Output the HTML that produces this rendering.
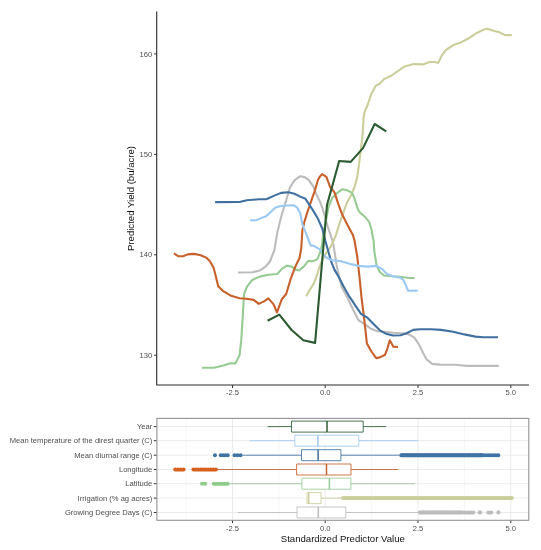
<!DOCTYPE html>
<html lang="en"><head><meta charset="utf-8"><title>Partial dependence plot</title>
<style>html,body{margin:0;padding:0;background:#fff}body{width:541px;height:550px;overflow:hidden}</style></head>
<body>
<svg width="541" height="550" viewBox="0 0 541 550" style="display:block">
<rect width="541" height="550" fill="#fff"/>
<g fill="none" stroke-width="2.1" stroke-linejoin="round" stroke-linecap="butt">
<polyline stroke="#bcbcbc" points="238,272.5 252.4,272.3 259.6,270.6 265.5,266.7 269.9,261.5 274.4,250 277.4,232.1 281.8,214.4 285.5,202.5 289.9,187.7 294.4,180.4 300.3,176.2 304.7,177.1 309.1,180.4 313.6,187.2 315.7,193 319.4,200.4 322.4,207.8 324.3,214.4 326.1,221.1 327.4,225.5 330.2,233.9 332.8,242 334.3,250.2 335.7,259 336.6,265 338.8,275.5 341.8,287.3 347.5,297.7 353,309.5 358.6,320.3 365.1,324.4 371.1,328.8 377,331.1 384.4,331.8 393.2,332.8 402.1,333.3 408.9,334.4 414.4,337.7 418.9,344.4 423.3,353.2 426.6,359.4 432.2,363.9 439.9,364.6 455.5,364.8 466.5,365.9 498.7,365.9"/>
<polyline stroke="#cbce9b" points="306.2,296.2 310,289.5 313.7,283.6 317.4,274 319.6,266.6 323.3,257.7 327,251.8 329.2,249 332.2,243.9 335.9,235.1 339.6,223.2 343.3,212.9 347,202.5 350.7,195.9 354.4,187.5 357.1,177.6 359,164.7 360.8,149.9 362.7,133.3 363.6,118 364.4,112.4 367.6,105 371.3,93.9 375.9,85.6 379.6,83.8 384.2,79.1 391.6,75.5 398.1,70.8 404.5,66.6 413.8,64 423,64.4 429.5,62 435,62 438.2,62.9 442.2,54.8 445.9,50 454,44.7 459.6,43.1 467.9,38.8 476.2,33.3 483.6,29.6 487.3,28.7 492.8,30.5 499.3,32.3 504.9,35.1 511.7,35.1"/>
<polyline stroke="#97cb94" points="202,367.8 214,367.8 223.3,365.6 229.7,363.4 235.3,363.4 239.5,355.5 241.3,339.8 242.6,319.1 244,294 247,286.6 252.2,280 259.6,276.6 268.4,274.8 277.3,274 281.8,268.9 286.9,265.6 292.1,266.7 295.1,269.6 298.9,270.4 303.5,266.8 308.5,260.7 312.2,261.4 317.4,259.2 320.3,251.8 322,245 323.3,233.6 326.3,218.8 328.5,207 332.2,198.1 337.4,192.8 342,189.3 347,190.2 352.1,192.9 354.4,198.1 358.1,209.9 360.3,212.9 365.5,217.3 369.1,221.8 371.4,229.2 373.6,241 374.4,251.8 376.6,265.1 379.6,271.8 384,275.5 391.4,276.2 400.3,276.7 409.1,278 414.6,278"/>
<polyline stroke="#c8602b" points="173.9,253.3 178.5,256.3 183.1,256.3 187.7,254.4 194.2,253.9 200.7,255.2 206.2,257.6 209.9,261.3 213.6,267.7 215.5,275.1 218.2,286.2 222.8,290.8 231.2,295.8 239.5,298.2 246.3,298.7 253.7,299.9 258.8,303.9 264,301.4 268.4,298.4 273.6,304.4 277,312.5 281.8,299.2 286.2,294 290.6,279.2 295,267.4 299.6,257.7 301.3,248 302.4,230 304.6,221.1 307.6,211.5 310.9,201.9 313.5,194.4 315,190.3 317.8,180.2 319.6,177 322.1,174.1 326.4,176.8 330.1,187 334.5,192.4 338.1,203.3 341.8,213.6 347,224 352.9,235.1 354.4,240 357.3,257 359.5,277 361.7,299.1 363.7,314.8 365.4,329.6 366.9,343.6 371.1,351 376.2,358.1 379.9,357.4 385.1,354.7 387.3,348.8 389.8,340.2 393.2,346.6 398,347"/>
<polyline stroke="#3f709f" points="215.1,202.1 239.5,202 246.9,200.3 258.9,199.3 266.3,199.3 273.7,195.9 281.1,192.9 288.4,192.2 294.4,193.7 300.3,196.6 305.5,198.8 309.9,205.5 313.6,211.4 318,218.8 322.5,229.2 325.4,241 328.4,251.8 331.4,262.2 334.4,269.6 338.8,277 343.2,285.8 349.1,296.2 355.1,305.1 361,313.9 367.4,317.7 374,324.4 379.9,330.3 385.8,333.7 393.2,335.5 400.6,335.2 406.5,333.3 413.3,329.9 420,329.3 431.1,329.3 441,329.9 453.2,331.7 464.3,334.4 475.4,336.6 483.2,337.3 498,337.3"/>
<polyline stroke="#9bc9f2" points="250.2,220.4 255.9,220.3 261.1,218.1 265.5,216.6 270.7,212.1 275.1,207.7 279.6,206.2 287,205.5 293.6,205.2 297.3,207.7 300.3,213.6 302.5,224.7 305.5,232.1 308.4,239.5 310.6,245.4 313.5,245.7 320.3,249.6 325.5,257 331.4,260 341.8,261.4 352.1,264.4 358.9,265.9 367.7,266.6 376.6,265.9 381.8,268.8 387,274 392.9,276.2 400.3,277.7 403.2,279.9 405.5,284.4 408,290.7 417.7,290.6"/>
<polyline stroke="#2c5b32" points="267.6,320.8 279.3,314.6 291.6,330 303.3,340.3 315.1,342.9 327,205 339.2,161 350.7,161.9 363,148.1 374.7,124 386.2,131.4"/>
</g>
<g stroke="#2b2b2b" stroke-width="1.1" fill="none">
<path d="M156.7 11.6V385.0H529"/>
</g>
<g stroke="#333" stroke-width="1" fill="none">
<path d="M154.1 53.9H156.7"/>
<path d="M154.1 154.4H156.7"/>
<path d="M154.1 254.8H156.7"/>
<path d="M154.1 355.2H156.7"/>
<path d="M232.5 385.1V388"/>
<path d="M325.2 385.1V388"/>
<path d="M418.0 385.1V388"/>
<path d="M510.8 385.1V388"/>
</g>
<g font-family="'Liberation Sans',Arial,sans-serif" font-size="7.6" fill="#4d4d4d">
<text x="152.2" y="56.5" text-anchor="end">160</text>
<text x="152.2" y="156.9" text-anchor="end">150</text>
<text x="152.2" y="257.2" text-anchor="end">140</text>
<text x="152.2" y="357.6" text-anchor="end">130</text>
<text x="232.5" y="394.9" text-anchor="middle">-2.5</text>
<text x="325.2" y="394.9" text-anchor="middle">0.0</text>
<text x="418.0" y="394.9" text-anchor="middle">2.5</text>
<text x="510.8" y="394.9" text-anchor="middle">5.0</text>
</g>
<text font-family="'Liberation Sans',Arial,sans-serif" font-size="9.6" fill="#111" text-anchor="middle" transform="translate(134 198.5) rotate(-90)">Predicted Yield (bu/acre)</text>
<g stroke="#e3e3e3" stroke-width="0.7" fill="none">
<path d="M156.9 426.6H528.8"/>
<path d="M156.9 440.7H528.8"/>
<path d="M156.9 455.2H528.8"/>
<path d="M156.9 469.5H528.8"/>
<path d="M156.9 483.7H528.8"/>
<path d="M156.9 498.1H528.8"/>
<path d="M156.9 512.5H528.8"/>
<path d="M232.5 418.4V520.3"/>
<path d="M325.2 418.4V520.3"/>
<path d="M418.0 418.4V520.3"/>
<path d="M510.8 418.4V520.3"/>
</g>
<g stroke="#eeeeee" stroke-width="0.5" fill="none">
<path d="M186.1 418.4V520.3"/>
<path d="M278.9 418.4V520.3"/>
<path d="M371.6 418.4V520.3"/>
<path d="M464.4 418.4V520.3"/>
</g>
<path d="M215.0 455.2H215.02" stroke="#3f73a5" stroke-width="4" stroke-linecap="round" stroke-dasharray="0 1.5000" fill="none"/>
<path d="M220.7 455.2H227.82" stroke="#3f73a5" stroke-width="4" stroke-linecap="round" stroke-dasharray="0 2.3667" fill="none"/>
<path d="M234.5 455.2H240.62" stroke="#3f73a5" stroke-width="4" stroke-linecap="round" stroke-dasharray="0 3.0500" fill="none"/>
<path d="M401.2 455.2H482.02" stroke="#3f73a5" stroke-width="4" stroke-linecap="round" stroke-dasharray="0 1.2060" fill="none"/>
<path d="M484.0 455.2H498.32" stroke="#3f73a5" stroke-width="4" stroke-linecap="round" stroke-dasharray="0 2.3833" fill="none"/>
<path d="M175.2 469.5H183.62" stroke="#d6611f" stroke-width="4" stroke-linecap="round" stroke-dasharray="0 2.8000" fill="none"/>
<path d="M193.4 469.5H215.92" stroke="#d6611f" stroke-width="4" stroke-linecap="round" stroke-dasharray="0 2.5000" fill="none"/>
<path d="M202.0 483.7H205.22" stroke="#8fcc8b" stroke-width="4" stroke-linecap="round" stroke-dasharray="0 3.2000" fill="none"/>
<path d="M213.8 483.7H227.62" stroke="#8fcc8b" stroke-width="4" stroke-linecap="round" stroke-dasharray="0 2.7600" fill="none"/>
<path d="M343.0 498.1H511.82" stroke="#cbce9b" stroke-width="4" stroke-linecap="round" stroke-dasharray="0 1.1972" fill="none"/>
<path d="M419.7 512.5H462.02" stroke="#bcbcbc" stroke-width="4" stroke-linecap="round" stroke-dasharray="0 1.2086" fill="none"/>
<path d="M464.0 512.5H473.52" stroke="#bcbcbc" stroke-width="4" stroke-linecap="round" stroke-dasharray="0 2.3750" fill="none"/>
<path d="M479.6 512.5H480.22" stroke="#bcbcbc" stroke-width="4" stroke-linecap="round" stroke-dasharray="0 0.6000" fill="none"/>
<path d="M488.3 512.5H491.22" stroke="#bcbcbc" stroke-width="4" stroke-linecap="round" stroke-dasharray="0 2.9000" fill="none"/>
<path d="M498.3 512.5H498.52" stroke="#bcbcbc" stroke-width="4" stroke-linecap="round" stroke-dasharray="0 0.2000" fill="none"/>
<g stroke="#2c5b32" fill="none" stroke-width="0.85" stroke-linejoin="round">
<path d="M267.7 426.6H291.5M363.2 426.6H386.2"/>
<rect x="291.5" y="421.1" width="71.7" height="11" fill="#fff"/>
<path d="M327.0 421.1V432.1" stroke-width="1.5"/>
</g>
<g stroke="#9bc9f2" fill="none" stroke-width="0.85" stroke-linejoin="round">
<path d="M249.8 440.7H294.8M358.8 440.7H418.3"/>
<rect x="294.8" y="435.2" width="64.0" height="11" fill="#fff"/>
<path d="M317.9 435.2V446.2" stroke-width="1.5"/>
</g>
<g stroke="#3f709f" fill="none" stroke-width="0.85" stroke-linejoin="round">
<path d="M242.5 455.2H301.5M340.9 455.2H399.2"/>
<rect x="301.5" y="449.7" width="39.4" height="11" fill="#fff"/>
<path d="M318.1 449.7V460.7" stroke-width="1.5"/>
</g>
<g stroke="#c8602b" fill="none" stroke-width="0.85" stroke-linejoin="round">
<path d="M216.5 469.5H296.6M351.0 469.5H398.4"/>
<rect x="296.6" y="464.0" width="54.4" height="11" fill="#fff"/>
<path d="M326.5 464.0V475.0" stroke-width="1.5"/>
</g>
<g stroke="#97cb94" fill="none" stroke-width="0.85" stroke-linejoin="round">
<path d="M228.7 483.7H301.9M350.9 483.7H414.8"/>
<rect x="301.9" y="478.2" width="49.0" height="11" fill="#fff"/>
<path d="M329.4 478.2V489.2" stroke-width="1.5"/>
</g>
<g stroke="#cbce9b" fill="none" stroke-width="0.85" stroke-linejoin="round">
<path d="M307.0 498.1H307.0M321.0 498.1H341.0"/>
<rect x="307.0" y="492.6" width="14.0" height="11" fill="#fff"/>
<path d="M308.7 492.6V503.6" stroke-width="1.5"/>
</g>
<g stroke="#bcbcbc" fill="none" stroke-width="0.85" stroke-linejoin="round">
<path d="M237.6 512.5H297.0M345.8 512.5H417.7"/>
<rect x="297.0" y="507.0" width="48.8" height="11" fill="#fff"/>
<path d="M318.3 507.0V518.0" stroke-width="1.5"/>
</g>
<rect x="156.9" y="418.4" width="371.9" height="101.9" fill="none" stroke="#929292" stroke-width="1.1"/>
<g stroke="#333" stroke-width="1" fill="none">
<path d="M153.8 426.6H156.4"/>
<path d="M153.8 440.7H156.4"/>
<path d="M153.8 455.2H156.4"/>
<path d="M153.8 469.5H156.4"/>
<path d="M153.8 483.7H156.4"/>
<path d="M153.8 498.1H156.4"/>
<path d="M153.8 512.5H156.4"/>
<path d="M232.5 520.8V523.0999999999999"/>
<path d="M325.2 520.8V523.0999999999999"/>
<path d="M418.0 520.8V523.0999999999999"/>
<path d="M510.8 520.8V523.0999999999999"/>
</g>
<g font-family="'Liberation Sans',Arial,sans-serif" font-size="7.6" fill="#4d4d4d">
<text x="152.3" y="429.3" text-anchor="end">Year</text>
<text x="152.3" y="443.4" text-anchor="end">Mean temperature of the direst quarter (C)</text>
<text x="152.3" y="457.9" text-anchor="end">Mean diurnal range (C)</text>
<text x="152.3" y="472.2" text-anchor="end">Longitude</text>
<text x="152.3" y="486.4" text-anchor="end">Latitude</text>
<text x="152.3" y="500.8" text-anchor="end">Irrigation (% ag acres)</text>
<text x="152.3" y="515.2" text-anchor="end">Growing Degree Days (C)</text>
<text x="232.5" y="530.5" text-anchor="middle">-2.5</text>
<text x="325.2" y="530.5" text-anchor="middle">0.0</text>
<text x="418.0" y="530.5" text-anchor="middle">2.5</text>
<text x="510.8" y="530.5" text-anchor="middle">5.0</text>
</g>
<text font-family="'Liberation Sans',Arial,sans-serif" font-size="9.6" fill="#111" text-anchor="middle" x="342.8" y="542">Standardized Predictor Value</text>
</svg>
</body></html>
